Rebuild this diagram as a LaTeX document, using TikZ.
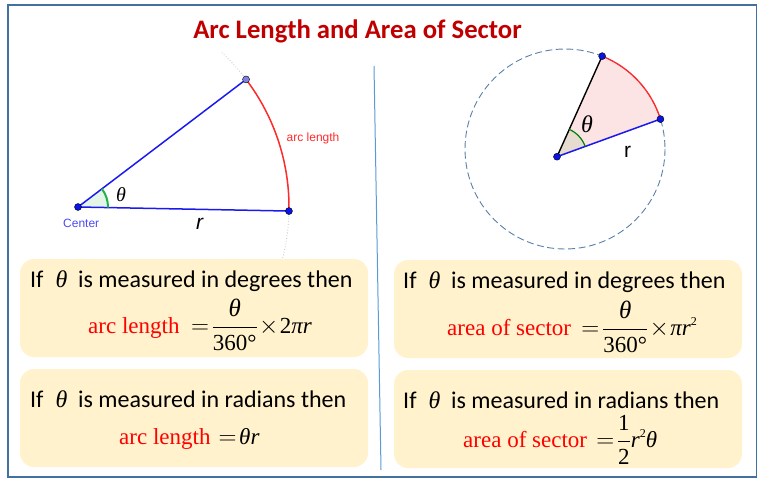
\documentclass[tikz,border=0pt]{standalone}
\usepackage{fontspec}
\setmainfont{Carlito}
\newfontfamily\tnr{Liberation Serif}
\newfontfamily\arialf{Liberation Sans}
\usetikzlibrary{calc}
\definecolor{frameblue}{HTML}{41719C}
\definecolor{divblue}{HTML}{5B9BD5}
\definecolor{titlered}{HTML}{C00000}
\definecolor{boxfill}{HTML}{FFF2CC}
\definecolor{dotblue}{HTML}{0A14E6}
\definecolor{lightdot}{HTML}{8080E0}
\definecolor{lineblue}{HTML}{1A1AF0}
\definecolor{arcred}{HTML}{FF2A2A}
\definecolor{anggreen}{HTML}{22B14C}
\definecolor{angfill}{HTML}{E2F5E6}
\definecolor{sectpink}{HTML}{FDE4E4}
\definecolor{angtan}{HTML}{E6DCCF}
\definecolor{dashblue}{HTML}{5A80A8}
\definecolor{labblue}{HTML}{4A4AF5}
\newcommand{\thet}{{\tnr\itshape θ}}
\newcommand{\numth}{\mbox{\fontsize{25}{25}\selectfont\itshape θ}}
\newcommand{\sqtwo}{\raisebox{10pt}{\fontsize{12}{12}\selectfont 2}}
\begin{document}
\begin{tikzpicture}[x=1pt,y=-1pt,
  box/.style={fill=boxfill, rounded corners=14pt, inner sep=0},
  body/.style={anchor=base west, inner sep=0, font=\fontsize{24}{28}\selectfont},
  formula/.style={anchor=base west, inner sep=0, font=\tnr\fontsize{23}{28}\selectfont},
  dot/.style={circle, fill=dotblue, draw=black, line width=0.4pt, inner sep=0, minimum size=7pt},
  seg/.style={line width=1.5pt, lineblue}]
\useasboundingbox (0,0) rectangle (765,489);
% frame
\draw[frameblue, line width=1.4pt] (8,5) rectangle (756.5,477);
% title
\node[anchor=base, inner sep=0, text=titlered, font=\bfseries\fontsize{26.7}{30}\selectfont] (title) at (357.5,38.5) {Arc Length and Area of Sector};
% divider
\coordinate (d1) at (374,66);
\coordinate (d2) at (381,470);
\draw[divblue, line width=1pt] (d1) -- (d2);

% ---------- left diagram ----------
\coordinate (C) at (78,207);
\coordinate (P1) at ($(C)+(-37.2:211)$);
\coordinate (P2) at ($(C)+(1.1:211)$);
\draw[gray!50, dotted, line width=0.8pt] ($(C)+(14:211)$) arc[start angle=14, end angle=-47, radius=211];
\fill[angfill] (C) -- ($(C)+(1.1:30)$) arc[start angle=1.1, end angle=-37.2, radius=30] -- cycle;
\draw[arcred, line width=1.5pt] (P2) arc[start angle=1.1, end angle=-37.2, radius=211];
\draw[seg] (C) -- (P1);
\draw[seg] (C) -- (P2);
\draw[anggreen, line width=2pt] ($(C)+(1.1:30)$) arc[start angle=1.1, end angle=-37.2, radius=30];
\node[dot] (c) at (C) {};
\node[dot, fill=lightdot] (p1) at (P1) {};
\node[dot] (p2) at (P2) {};
\node[anchor=base west, inner sep=0, font=\tnr\itshape\fontsize{20}{20}\selectfont] (th1) at (116,201.5) {θ};
\node[anchor=base west, inner sep=0, text=labblue, font=\arialf\fontsize{12}{12}\selectfont] (ctr) at (63,227) {Center};
\node[anchor=base west, inner sep=0, font=\arialf\itshape\fontsize{21}{21}\selectfont] (r1) at (196,229) {r};
\node[anchor=base west, inner sep=0, text=arcred, font=\arialf\fontsize{12}{12}\selectfont] (al) at (286.5,141.5) {arc length};

% ---------- right diagram ----------
\coordinate (V) at (557,156.7);
\coordinate (O) at (565,149);
\coordinate (Q1) at ($(O)+(-68.2:100)$);
\coordinate (Q2) at ($(O)+(-17.4:100)$);
\fill[sectpink] (V) -- (Q2) arc[start angle=-17.4, end angle=-68.2, radius=100] -- cycle;
\fill[angtan] (V) -- ($(V)+(-20:30)$) arc[start angle=-20, end angle=-65.8, radius=30] -- cycle;
\draw[dashblue, dash pattern=on 7pt off 3.5pt, line width=0.9pt] (O) circle[radius=100];
\draw[arcred, line width=1.3pt] (Q2) arc[start angle=-17.4, end angle=-68.2, radius=100];
\draw[black, line width=1.4pt] (V) -- (Q1);
\draw[seg] (V) -- (Q2);
\draw[green!50!black, line width=1.2pt] ($(V)+(-20:30)$) arc[start angle=-20, end angle=-65.8, radius=30];
\node[dot] (v) at (V) {};
\node[dot] (q1) at (Q1) {};
\node[dot] (q2) at (Q2) {};
\node[anchor=base west, inner sep=0, font=\tnr\itshape\fontsize{24}{24}\selectfont] (th2) at (581,132.7) {θ};
\node[anchor=base west, inner sep=0, font=\arialf\fontsize{21}{21}\selectfont] (r2) at (624,157.3) {r};

% ---------- boxes ----------
\node[box, minimum width=348pt, minimum height=98pt] (b1) at (194,308) {};
\node[box, minimum width=348pt, minimum height=98pt] (b2) at (194,418) {};
\node[box, minimum width=348pt, minimum height=98pt] (b3) at (568,309) {};
\node[box, minimum width=348pt, minimum height=98pt] (b4) at (568,419) {};

\node[body] (t1) at (30,287) {If\hspace{0.5em}\thet\hspace{0.45em}is measured in degrees then};
\node[formula] (f1) at (88,333) {\textcolor{red}{arc length}\hspace{0.5em}$=\!\displaystyle\frac{\numth}{\mbox{360°}}\!\times\!\mbox{2\itshape πr}$};
\node[body] (t2) at (30,407) {If\hspace{0.5em}\thet\hspace{0.45em}is measured in radians then};
\node[formula] (f2) at (119,444.5) {\textcolor{red}{arc length}\hspace{0.35em}$=$\hspace{0.12em}\mbox{\itshape θr}};
\node[body] (t3) at (403,288) {If\hspace{0.5em}\thet\hspace{0.45em}is measured in degrees then};
\node[formula] (f3) at (447,335) {\textcolor{red}{area of sector}\hspace{0.45em}$=\!\displaystyle\frac{\numth}{\mbox{360°}}\!\times\!\mbox{\itshape πr}$\sqtwo};
\node[body] (t4) at (403,408) {If\hspace{0.5em}\thet\hspace{0.45em}is measured in radians then};
\node[formula] (f4) at (463,447.5) {\textcolor{red}{area of sector}\hspace{0.4em}$=\!\displaystyle\frac{\mbox{1}}{\mbox{2}}$\mbox{\itshape r}\sqtwo\mbox{\itshape θ}};
\end{tikzpicture}
\end{document}
